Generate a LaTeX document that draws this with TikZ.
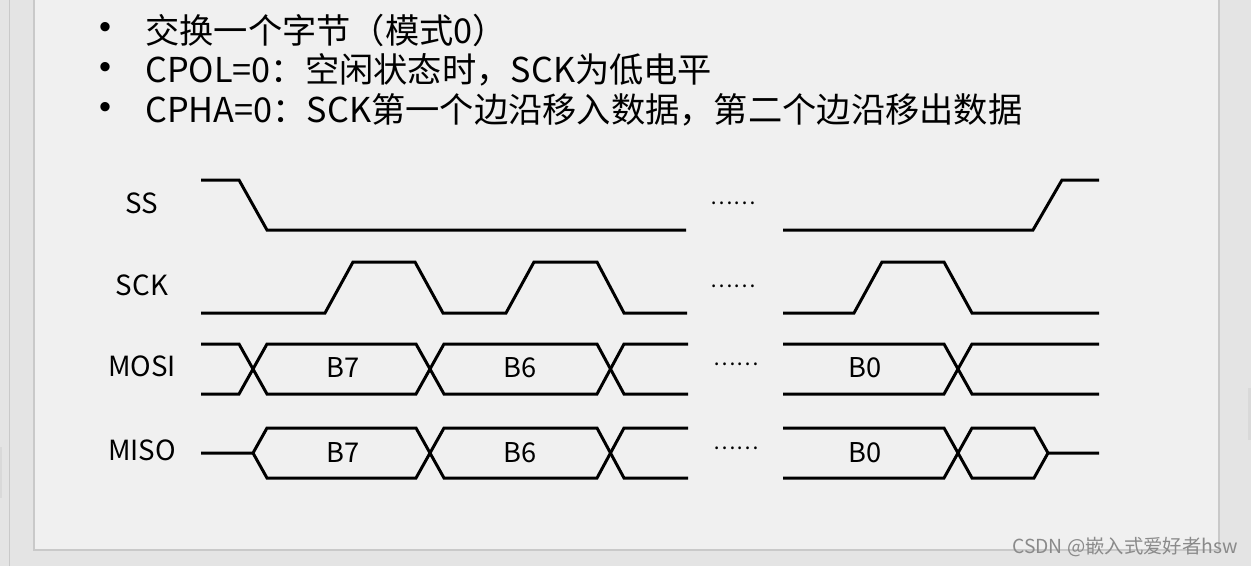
\documentclass[tikz,border=0pt]{standalone}
\usepackage{fontspec}
\newfontfamily\cjk{Noto Sans CJK SC}
\newfontfamily\latn{Liberation Sans}
\usetikzlibrary{positioning}
\definecolor{page}{HTML}{F0F0F0}
\definecolor{frame}{HTML}{E4E4E4}
\definecolor{rim}{HTML}{C9C9C9}
\definecolor{wmark}{HTML}{8A8A8A}
\tikzset{
  wave/.style={draw=black,line width=1.7pt,line join=miter},
  headline/.style={font=\cjk\fontsize{19.5}{23}\selectfont,anchor=west,inner sep=0pt},
  bulletdot/.style={font=\latn\fontsize{19.5}{23}\selectfont,inner sep=0pt},
  siglabel/.style={font=\cjk\fontsize{15.8}{18}\selectfont,inner sep=0pt},
  bitlabel/.style={font=\cjk\fontsize{15.5}{18}\selectfont,inner sep=0pt},
  gapdots/.style={font=\cjk\fontsize{12}{14}\selectfont,inner sep=0pt},
  credit/.style={font=\cjk\fontsize{11}{13}\selectfont,text=wmark,inner sep=0pt},
}
\begin{document}
\begin{tikzpicture}[x=0.02cm,y=-0.02cm]
  \useasboundingbox (0,0) rectangle (1251,566);
  % window and page
  \fill[frame] (0,0) rectangle (1251,566);
  \draw[rim,line width=0.8pt] (9.5,0) -- (9.5,566);
  \fill[rim!70] (0,447) rectangle (2,498);
  \fill[rim!70] (1248,388) rectangle (1251,440);
  \fill[page] (34,0) rectangle (1219,550);
  \draw[rim,line width=1pt] (34,0) -- (34,550) -- (1219,550) -- (1219,0);
  % bullet list
  \foreach \y/\id/\txt in {30/l1/{交换一个字节（模式0）},70/l2/{CPOL=0：空闲状态时，SCK为低电平},110/l3/{CPHA=0：SCK第一个边沿移入数据，第二个边沿移出数据}}{
    \node[bulletdot] (dot\id) at (105,\y) {•};
    \node[headline] (\id) at (145,\y) {\txt};
  }
  % signal names
  \node[siglabel] (ss) at (142,203) {SS};
  \node[siglabel] (sck) at (142,285) {SCK};
  \node[siglabel] (mosi) at (142,366) {MOSI};
  \node[siglabel] (miso) at (142,450) {MISO};
  % SS
  \draw[wave] (201,180) -- (239,180) -- (267,230) -- (686,230);
  \draw[wave] (783,230) -- (1033,230) -- (1062,180) -- (1099,180);
  % SCK
  \draw[wave] (201,313) -- (325,313) -- (353,262) -- (415,262) -- (443,313) -- (506,313)
    -- (534,262) -- (597,262) -- (624,313) -- (687,313);
  \draw[wave] (783,313) -- (854,313) -- (882,262) -- (944,262) -- (972,313) -- (1099,313);
  % MOSI
  \draw[wave] (201,344) -- (239,344) -- (267,394) -- (416,394) -- (444,344) -- (597,344)
    -- (624,394) -- (688,394);
  \draw[wave] (201,394) -- (239,394) -- (267,344) -- (416,344) -- (444,394) -- (597,394)
    -- (624,344) -- (688,344);
  \draw[wave] (783,344) -- (944,344) -- (972,394) -- (1099,394);
  \draw[wave] (783,394) -- (944,394) -- (972,344) -- (1099,344);
  % MISO
  \draw[wave] (201,453) -- (253,453) -- (267,428) -- (416,428) -- (444,478) -- (597,478)
    -- (624,428) -- (688,428);
  \draw[wave] (253,453) -- (267,478) -- (416,478) -- (444,428) -- (597,428) -- (624,478)
    -- (688,478);
  \draw[wave] (783,428) -- (944,428) -- (972,478) -- (1034,478) -- (1048,453) -- (1099,453);
  \draw[wave] (783,478) -- (944,478) -- (972,428) -- (1034,428) -- (1048,453);
  % bit names
  \foreach \y/\row in {368/mo,453/mi}{
    \node[bitlabel] (\row7) at (343,\y) {B7};
    \node[bitlabel] (\row6) at (520,\y) {B6};
    \node[bitlabel] (\row0) at (865,\y) {B0};
  }
  % gaps
  \node[gapdots] (gss) at (733,203) {……};
  \node[gapdots] (gsck) at (733,286) {……};
  \node[gapdots] (gmo) at (736,364) {……};
  \node[gapdots] (gmi) at (736,448) {……};
  \node[credit,anchor=east] (wm) at (1238,547) {CSDN @嵌入式爱好者hsw};
\end{tikzpicture}
\end{document}
